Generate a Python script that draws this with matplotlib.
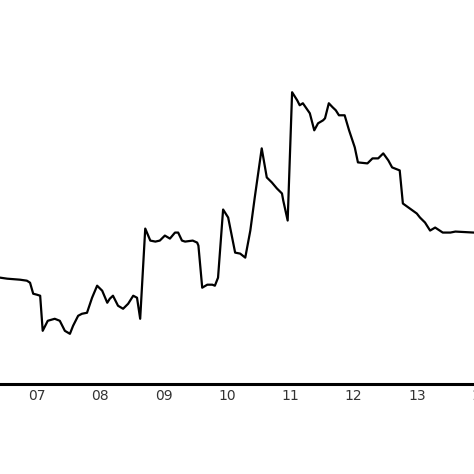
import matplotlib
matplotlib.use("Agg")
import matplotlib.pyplot as plt

# series: time in years, level in arbitrary units
years = [
    2006.42, 2006.53, 2006.73, 2006.84, 2006.89, 2006.94, 2007.00, 2007.05,
    2007.09, 2007.17, 2007.28, 2007.36, 2007.44, 2007.52, 2007.57, 2007.65,
    2007.71, 2007.79, 2007.87, 2007.95, 2008.03, 2008.11, 2008.15, 2008.20,
    2008.28, 2008.36, 2008.44, 2008.52, 2008.58, 2008.63, 2008.71, 2008.79,
    2008.87, 2008.94, 2009.02, 2009.10, 2009.18, 2009.23, 2009.29, 2009.34,
    2009.46, 2009.53, 2009.55, 2009.61, 2009.69, 2009.77, 2009.81, 2009.86,
    2009.94, 2010.02, 2010.13, 2010.21, 2010.29, 2010.37, 2010.44, 2010.55,
    2010.63, 2010.71, 2010.79, 2010.87, 2010.89, 2010.96, 2011.03, 2011.11,
    2011.15, 2011.20, 2011.31, 2011.38, 2011.44, 2011.52, 2011.55, 2011.61,
    2011.67, 2011.72, 2011.77, 2011.86, 2011.93, 2012.02, 2012.07, 2012.22,
    2012.30, 2012.39, 2012.47, 2012.55, 2012.61, 2012.73, 2012.78, 2012.89,
    2013.00, 2013.05, 2013.13, 2013.21, 2013.29, 2013.41, 2013.53, 2013.61,
    2013.90,
]
level = [
    12.3, 12.2, 12.1, 12.0, 11.8, 10.7, 10.6, 10.5,
    7.0, 8.0, 8.2, 8.0, 7.0, 6.7, 7.5, 8.5,
    8.7, 8.8, 10.3, 11.5, 11.0, 9.8, 10.2, 10.5,
    9.5, 9.2, 9.7, 10.5, 10.3, 8.2, 17.2, 16.0,
    15.9, 16.0, 16.5, 16.2, 16.8, 16.8, 16.0, 15.9,
    16.0, 15.8, 15.5, 11.3, 11.6, 11.6, 11.5, 12.3,
    19.1, 18.3, 14.8, 14.7, 14.3, 17.0, 20.3, 25.2,
    22.3, 21.8, 21.2, 20.7, 20.0, 18.0, 30.8, 30.0,
    29.5, 29.7, 28.7, 27.0, 27.7, 28.0, 28.2, 29.7,
    29.3, 29.0, 28.5, 28.5, 27.0, 25.3, 23.8, 23.7,
    24.2, 24.2, 24.7, 24.0, 23.3, 23.0, 19.7, 19.2,
    18.7, 18.3, 17.8, 17.0, 17.3, 16.8, 16.8, 16.9,
    16.8,
]
tick_years = [2007, 2008, 2009, 2010, 2011, 2012, 2013, 2014]
tick_labels = ["07", "08", "09", "10", "11", "12", "13", "14"]


def main():
    fig = plt.figure(figsize=(4.74, 4.74), dpi=100)
    ax = fig.add_axes([0.0, 0.19, 1.0, 0.81])

    ax.plot(years, level, color="black", linewidth=1.6)

    ax.set_xlim(2006.4155, 2013.9036)
    ax.set_ylim(1.7, 40)

    for side in ["top", "left", "right"]:
        ax.spines[side].set_visible(False)
    ax.spines["bottom"].set_linewidth(2.2)
    ax.set_yticks([])
    ax.set_xticks([])

    # year labels, the last one runs off the right edge as in the original
    for yr, lab in zip(tick_years, tick_labels):
        ax.text(yr, -0.012, lab, transform=ax.get_xaxis_transform(),
                ha="center", va="top", fontsize=10, color="#333333",
                clip_on=False)

    fig.savefig("out.png", dpi=100)


if __name__ == "__main__":
    main()
